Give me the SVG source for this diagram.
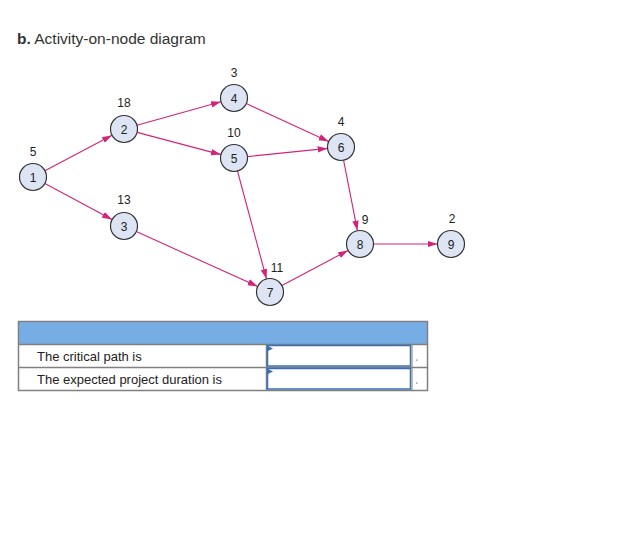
<svg xmlns="http://www.w3.org/2000/svg" width="634" height="538" viewBox="0 0 634 538">
<defs>
<style>
.title{font-family:"Liberation Sans",Arial,sans-serif;font-size:15.5px;fill:#333}
.nd circle{fill:#dde4f3;stroke:#333;stroke-width:1.2}
.nd text{font-family:"Liberation Sans",Arial,sans-serif;font-size:12px;fill:#222;text-anchor:middle}
.lbl{font-family:"Liberation Sans",Arial,sans-serif;font-size:12px;fill:#222;text-anchor:middle}
#edges line{stroke:#d4237a;stroke-width:1.1;marker-end:url(#ah)}
.cell{font-family:"Liberation Sans",Arial,sans-serif;font-size:13px;fill:#222}
</style>
<marker id="ah" markerUnits="userSpaceOnUse" markerWidth="10" markerHeight="8" viewBox="0 0 10 8" refX="10" refY="4" orient="auto">
<path d="M0,0.8 L10,4 L0,7.2 Z" fill="#d4237a"/>
</marker>
</defs>
<rect width="634" height="538" fill="#fff"/>
<text class="title" x="17" y="44"><tspan font-weight="bold">b.</tspan> Activity-on-node diagram</text>

<g id="edges">
<line x1="44.9" y1="170.7" x2="112.1" y2="135.3"/>
<line x1="44.9" y1="183.4" x2="112.1" y2="219.6"/>
<line x1="137" y1="125.3" x2="221" y2="101.7"/>
<line x1="137.1" y1="132.4" x2="220.9" y2="154.6"/>
<line x1="246.3" y1="103.6" x2="328.7" y2="141.4"/>
<line x1="247.4" y1="156.6" x2="327.6" y2="148.4"/>
<line x1="237.5" y1="171" x2="266.5" y2="279"/>
<line x1="136.3" y1="231.6" x2="257.7" y2="286.4"/>
<line x1="343.6" y1="160.3" x2="357.4" y2="230.7"/>
<line x1="281.9" y1="285.6" x2="348.1" y2="250.4"/>
<line x1="373.5" y1="244" x2="437.5" y2="244"/>
</g>

<g id="node1" class="nd"><circle cx="33" cy="177" r="13.5"/><text x="33" y="181.5">1</text></g>
<g id="node2" class="nd"><circle cx="124" cy="129" r="13.5"/><text x="124" y="133.5">2</text></g>
<g id="node3" class="nd"><circle cx="124" cy="226" r="13.5"/><text x="124" y="230.5">3</text></g>
<g id="node4" class="nd"><circle cx="234" cy="98" r="13.5"/><text x="234" y="102.5">4</text></g>
<g id="node5" class="nd"><circle cx="234" cy="158" r="13.5"/><text x="234" y="162.5">5</text></g>
<g id="node6" class="nd"><circle cx="341" cy="147" r="13.5"/><text x="341" y="151.5">6</text></g>
<g id="node7" class="nd"><circle cx="270" cy="292" r="13.5"/><text x="270" y="296.5">7</text></g>
<g id="node8" class="nd"><circle cx="360" cy="244" r="13.5"/><text x="360" y="248.5">8</text></g>
<g id="node9" class="nd"><circle cx="451" cy="244" r="13.5"/><text x="451" y="248.5">9</text></g>

<g id="labels">
<text class="lbl" x="33" y="156">5</text>
<text class="lbl" x="124" y="107">18</text>
<text class="lbl" x="124" y="204">13</text>
<text class="lbl" x="234" y="77">3</text>
<text class="lbl" x="234" y="137">10</text>
<text class="lbl" x="341" y="126">4</text>
<text class="lbl" x="277" y="272">11</text>
<text class="lbl" x="365" y="224">9</text>
<text class="lbl" x="452" y="223">2</text>
</g>

<g id="table">
<rect x="18.5" y="321.5" width="409" height="23" fill="#77ade5"/>
<rect x="18.5" y="321.5" width="409" height="69" fill="none" stroke="#808080" stroke-width="1.5"/>
<line x1="18.5" y1="344.5" x2="427.5" y2="344.5" stroke="#808080" stroke-width="1.5"/>
<line x1="18.5" y1="367.5" x2="427.5" y2="367.5" stroke="#808080" stroke-width="1.5"/>
<line x1="266.5" y1="344.5" x2="266.5" y2="390.5" stroke="#808080" stroke-width="1.5"/>
<rect x="267.5" y="345.5" width="143" height="20.5" fill="#fff" stroke="#3a6fb5" stroke-width="1.5"/>
<rect x="267.5" y="368.5" width="143" height="20.5" fill="#fff" stroke="#3a6fb5" stroke-width="1.5"/>
<path d="M268,346 L273,348.5 L268,351 Z" fill="#3a6fb5"/>
<path d="M268,369 L273,371.5 L268,374 Z" fill="#3a6fb5"/>
<line x1="412" y1="344.5" x2="412" y2="390.5" stroke="#808080" stroke-width="1"/>
<text class="cell" x="37" y="361">The critical path is</text>
<text class="cell" x="37" y="384">The expected project duration is</text>
<rect x="416" y="359.5" width="1.5" height="1.2" fill="#888"/>
<rect x="416" y="382.5" width="1.5" height="1.2" fill="#888"/>
</g>
</svg>
